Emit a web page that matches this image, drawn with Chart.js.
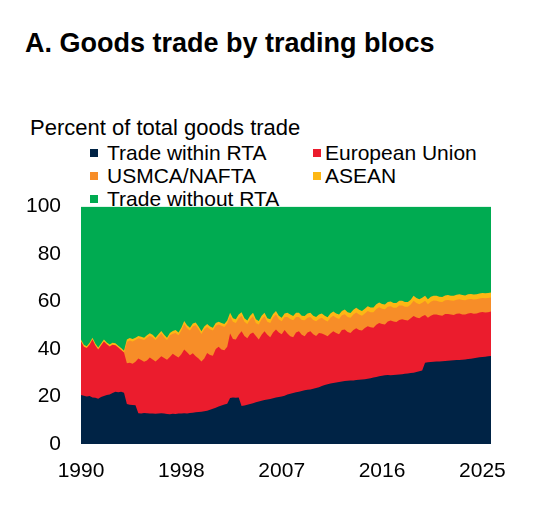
<!DOCTYPE html>
<html>
<head>
<meta charset="utf-8">
<script src="https://cdn.jsdelivr.net/npm/chart.js@4"></script>
<style>
  html, body { margin:0; padding:0; background:#fff; }
  body { width:550px; height:518px; position:relative; overflow:hidden;
         font-family:"Liberation Sans", Arial, Helvetica, sans-serif; color:#000; }
  #title { position:absolute; left:25px; top:30px; font-size:27px; line-height:27px; font-weight:bold; white-space:nowrap; }
  #unit { position:absolute; left:30px; top:117px; font-size:22px; line-height:22px; white-space:nowrap; }
  .lg-sq { position:absolute; width:8px; height:8px; }
  .lg-tx { position:absolute; font-size:21px; line-height:23px; white-space:nowrap; }
  #wrap { position:absolute; left:0; top:174px; width:550px; height:316px; }
</style>
</head>
<body>
<div id="title">A. Goods trade by trading blocs</div>
<div id="unit">Percent of total goods trade</div>
<div id="legend"></div>
<div id="wrap"><canvas id="c" width="550" height="316"></canvas></div>
<script>
// ---- data (quarterly, 1990Q1 - 2025Q4), percent of total goods trade ----
const startYear = 1990, endYear = 2025;
const categories = [];
for (let y = startYear; y <= endYear; y++) for (let q = 1; q <= 4; q++) categories.push(y + 'Q' + q);

const tickQuarters = ['1990Q1', '1998Q4', '2007Q3', '2016Q2', '2025Q1'];
const tickLabels   = ['1990', '1998', '2007', '2016', '2025'];
const yTicks = [0, 20, 40, 60, 80, 100];

const seriesNames = ['Trade within RTA', 'European Union', 'USMCA/NAFTA', 'ASEAN', 'Trade without RTA'];
const seriesColors = ['#002345', '#EB1C2D', '#F78D28', '#FDB714', '#00AB51'];

const rtaShare = [
20.6,20.3,20.0,20.2, 19.6,19.5,19.1,19.8, 20.2,20.6,20.8,21.5, 22.0,21.8,22.0,21.6,
16.8,16.5,16.4,16.3, 13.0,12.9,13.1,13.0, 12.9,12.8,12.7,12.9, 13.0,12.8,12.6,12.5,
12.7,12.6,12.8,12.9, 13.0,12.9,13.1,13.2, 13.4,13.5,13.6,13.8, 14.0,14.4,14.8,15.3,
15.8,16.2,16.6,17.0, 19.4,19.6,19.5,19.6, 16.0,16.2,16.5,16.8, 17.2,17.6,17.9,18.2,
18.5,18.7,19.0,19.3, 19.6,19.8,20.0,20.3, 20.8,21.2,21.5,21.8, 22.0,22.3,22.6,22.8,
23.0,23.3,23.6,23.9, 24.4,24.8,25.2,25.5, 25.7,25.9,26.1,26.3, 26.5,26.6,26.7,26.8,
27.0,27.1,27.2,27.3, 27.5,27.7,28.0,28.2, 28.5,28.8,29.0,29.1, 29.0,29.1,29.2,29.3,
29.4,29.6,29.7,29.9, 30.0,30.3,30.6,31.0, 34.2,34.4,34.5,34.6, 34.7,34.8,34.9,35.0,
35.1,35.2,35.3,35.4, 35.4,35.5,35.6,35.8, 35.9,36.1,36.3,36.5, 36.6,36.8,37.0,37.1
];

const euShare = [
22.6,20.7,20.4,21.6, 24.4,22.0,20.7,21.7, 23.0,21.4,20.3,20.3, 19.6,18.8,17.6,16.9,
17.2,17.7,17.4,18.3, 23.0,22.5,21.5,22.2, 23.5,22.8,22.0,22.9, 24.0,23.4,22.9,24.1,
25.3,24.6,23.6,24.9, 26.8,25.7,24.3,25.0, 23.6,22.5,21.1,22.2, 24.3,23.1,22.4,24.7,
25.2,23.6,22.9,24.0, 27.1,24.6,24.5,26.4, 31.5,29.3,28.0,29.5, 29.8,27.9,26.1,27.8,
29.0,27.3,26.0,27.7, 28.6,27.2,26.2,27.7, 25.7,24.2,23.5,25.2, 25.5,23.7,22.8,24.2,
24.5,22.9,21.9,22.9, 22.1,21.2,20.2,21.0, 21.8,20.9,20.1,21.7, 21.7,20.6,20.1,21.2,
21.8,20.9,20.6,21.6, 22.1,21.5,21.0,22.0, 22.5,21.7,21.3,22.5, 23.0,22.5,22.2,22.9,
23.2,22.6,22.3,23.1, 23.9,23.0,22.4,22.8, 20.1,18.8,19.5,20.0, 19.8,19.4,19.1,19.8,
19.7,19.3,19.0,19.5, 19.6,19.1,18.9,19.2, 19.3,18.8,18.7,18.9, 19.0,18.6,18.5,18.7
];

const naftaShare = [
0,0,0,0, 0,0,0,0, 0,0,0,0, 0,0,0,0,
9.0,9.4,9.4,9.2, 8.5,8.8,9.2,9.6, 9.2,9.4,9.1,9.4, 9.6,8.8,8.3,9.2,
8.4,9.6,9.4,10.0, 10.8,10.2,10.4,11.4, 13.0,12.3,11.6,12.3, 11.0,10.8,10.6,9.8,
9.3,10.0,9.8,9.8, 7.3,7.3,7.0,7.0, 6.5,6.0,6.0,6.2, 6.8,5.5,6.3,6.5,
6.3,5.5,6.0,6.3, 6.3,5.5,5.5,5.5, 7.0,7.3,7.1,6.5, 6.0,6.2,6.7,6.2,
6.0,6.0,6.2,5.9, 6.7,6.2,6.2,6.7, 6.5,6.4,6.5,6.2, 6.5,6.3,6.4,6.6,
6.6,6.5,6.2,6.1, 6.4,6.3,6.5,6.7, 6.6,6.5,6.5,6.2, 6.0,5.8,6.0,6.1,
5.7,5.6,5.8,5.8, 6.4,6.1,5.9,5.7, 6.0,5.7,5.9,5.8, 5.8,5.7,5.8,5.7,
5.9,5.9,6.0,5.9, 6.0,6.1,6.0,6.0, 5.9,6.0,6.0,5.9, 5.9,6.0,6.0,5.9
];

const aseanShare = [
0.8,0.8,0.8,0.8, 0.8,0.8,0.8,0.8, 0.8,0.8,0.8,0.8, 0.8,0.8,0.8,0.8,
1.0,1.0,1.0,1.0, 1.0,1.0,1.0,1.0, 1.0,1.0,1.0,1.0, 1.0,1.0,1.0,1.0,
1.2,1.2,1.2,1.2, 1.2,1.2,1.2,1.2, 1.2,1.2,1.2,1.2, 1.2,1.2,1.2,1.2,
1.2,1.2,1.2,1.2, 1.5,1.5,1.5,1.5, 1.5,1.5,1.5,1.5, 1.5,1.5,1.5,1.5,
1.5,1.5,1.5,1.5, 1.5,1.5,1.5,1.5, 1.8,1.8,1.8,1.8, 1.8,1.8,1.8,1.8,
1.8,1.8,1.8,1.8, 1.8,1.8,1.8,1.8, 1.8,1.8,1.8,1.8, 2.0,2.0,2.0,2.0,
2.0,2.0,2.0,2.0, 2.0,2.0,2.0,2.0, 2.0,2.0,2.0,2.0, 2.0,2.0,2.0,2.0,
2.0,2.0,2.0,2.0, 2.1,2.1,2.1,2.1, 2.1,2.1,2.1,2.1, 2.1,2.1,2.1,2.1,
2.1,2.1,2.1,2.1, 2.1,2.1,2.1,2.1, 2.1,2.1,2.1,2.1, 2.1,2.1,2.1,2.1
];

const withoutShare = [
56.0,58.2,58.8,57.4, 55.2,57.7,59.4,57.7, 56.0,57.2,58.1,57.4, 57.6,58.6,59.6,60.7,
56.0,55.4,55.8,55.2, 54.5,54.8,55.2,54.2, 53.4,54.0,55.2,53.8, 52.4,54.0,55.2,53.2,
52.4,52.0,53.0,51.0, 48.2,50.0,51.0,49.2, 48.8,50.5,52.5,50.5, 49.5,50.5,51.0,49.0,
48.5,49.0,49.5,48.0, 44.7,47.0,47.5,45.5, 44.5,47.0,48.0,46.0, 44.7,47.5,48.2,46.0,
44.7,47.0,47.5,45.2, 44.0,46.0,46.8,45.0, 44.7,45.5,46.1,44.7, 44.7,46.0,46.1,45.0,
44.7,46.0,46.5,45.5, 45.0,46.0,46.6,45.0, 44.2,45.0,45.5,44.0, 43.3,44.5,44.8,43.4,
42.6,43.5,44.0,43.0, 42.0,42.5,42.5,41.1, 40.4,41.0,41.2,40.2, 40.0,40.6,40.6,39.7,
39.7,40.2,40.2,39.2, 37.6,38.5,39.0,38.4, 37.6,39.0,38.0,37.5, 37.6,38.0,38.1,37.4,
37.2,37.5,37.6,37.1, 36.9,37.2,37.4,36.9, 36.8,37.0,36.9,36.6, 36.4,36.5,36.4,36.2
];

const seriesValues = [rtaShare, euShare, naftaShare, aseanShare, withoutShare];

// ---- legend (HTML text) ----
const legendPos = [
  {sq:90, tx:107, base:159.5}, {sq:313, tx:325, base:159.5},
  {sq:90, tx:107, base:182.5}, {sq:313, tx:325, base:182.5},
  {sq:90, tx:107, base:205.5}
];
const legendEl = document.getElementById('legend');
seriesNames.forEach((name, i) => {
  const p = legendPos[i];
  const sq = document.createElement('div');
  sq.className = 'lg-sq';
  sq.style.left = p.sq + 'px';
  sq.style.top = (p.base - 10.5) + 'px';
  sq.style.background = seriesColors[i];
  const tx = document.createElement('div');
  tx.className = 'lg-tx';
  tx.style.left = p.tx + 'px';
  tx.style.top = (p.base - 18.5) + 'px';
  tx.textContent = name;
  legendEl.appendChild(sq);
  legendEl.appendChild(tx);
});

// ---- chart ----
const FONT = '"Liberation Sans", Arial, Helvetica, sans-serif';
new Chart(document.getElementById('c'), {
  type: 'line',
  data: {
    labels: categories,
    datasets: seriesNames.map((name, i) => ({
      label: name,
      data: seriesValues[i],
      backgroundColor: seriesColors[i],
      borderColor: seriesColors[i],
      borderWidth: 0,
      pointRadius: 0,
      pointHoverRadius: 0,
      tension: 0,
      fill: 'origin'
    }))
  },
  options: {
    responsive: false,
    animation: false,
    devicePixelRatio: 1,
    layout: { padding: { top: 2, right: 59, left: 0, bottom: 0 } },
    plugins: { legend: { display: false }, tooltip: { enabled: false }, title: { display: false } },
    elements: { line: { borderWidth: 0 } },
    scales: {
      x: {
        type: 'category',
        offset: false,
        grid: { display: false, drawTicks: false },
        border: { display: false },
        ticks: {
          autoSkip: false,
          maxRotation: 0,
          minRotation: 0,
          padding: 15,
          color: '#000',
          font: { family: FONT, size: 21 },
          callback: function (value, index) {
            const k = tickQuarters.indexOf(categories[index]);
            return k >= 0 ? tickLabels[k] : null;
          }
        },
        afterFit: (s) => { s.height = 46; }
      },
      y: {
        stacked: true,
        min: 0,
        max: 100,
        grid: { display: false, drawTicks: false },
        border: { display: false },
        afterBuildTicks: (s) => { s.ticks = yTicks.map(v => ({ value: v })); },
        ticks: {
          padding: 20,
          color: '#000',
          font: { family: FONT, size: 21 }
        },
        afterFit: (s) => { s.width = 81; }
      }
    }
  }
});
</script>
</body>
</html>
